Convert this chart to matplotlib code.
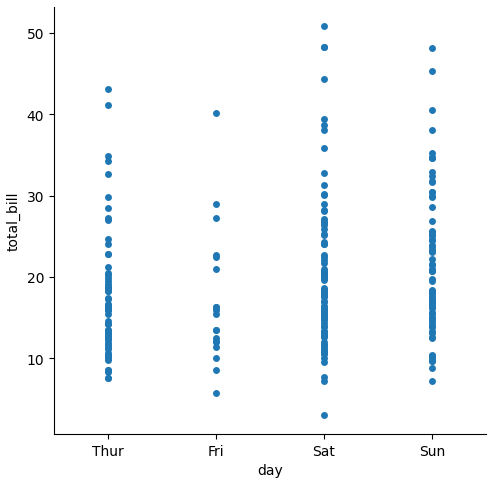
import pandas as pd
import matplotlib
matplotlib.use("Agg")
import matplotlib.pyplot as plt
import seaborn as sns

# total_bill per day
days = ["Thur", "Fri", "Sat", "Sun"]

thur_bill = [27.2, 22.76, 17.29, 19.44, 16.66, 10.07, 32.68, 15.98, 34.83, 13.03, 18.28, 24.71, 21.16,
             10.65, 12.43, 24.08, 11.69, 13.42, 14.26, 15.95, 12.48, 29.8, 8.52, 14.52, 11.38, 22.82,
             19.08, 20.27, 11.17, 12.26, 18.26, 8.51, 10.33, 14.15, 16.0, 13.16, 17.47, 34.3, 41.19,
             27.05, 16.43, 8.35, 18.64, 11.87, 9.78, 7.51, 19.81, 28.44, 15.48, 16.58, 7.56, 10.34,
             43.11, 13.0, 13.51, 18.71, 12.74, 13.0, 16.4, 20.53, 16.47, 18.78]
fri_bill = [28.97, 22.49, 5.75, 16.32, 22.75, 40.17, 27.28, 12.03, 21.01, 12.46, 11.35, 15.38,
            12.16, 13.42, 8.58, 15.98, 13.42, 16.27, 10.09]
sat_bill = [20.65, 17.92, 20.29, 15.77, 39.42, 19.82, 17.81, 13.37, 12.69, 21.7, 19.65, 9.55, 18.35,
            15.06, 20.69, 17.78, 24.06, 16.31, 16.93, 18.69, 31.27, 16.04, 38.01, 26.41, 11.24, 48.27,
            20.29, 13.81, 11.02, 18.29, 17.59, 20.08, 16.45, 3.07, 20.23, 15.01, 12.02, 17.07, 26.86,
            25.28, 14.73, 10.51, 17.92, 44.3, 22.42, 20.92, 15.36, 20.49, 25.21, 18.24, 14.31, 14.0,
            7.25, 10.59, 10.63, 50.81, 15.81, 26.59, 38.73, 24.27, 12.76, 30.06, 25.89, 48.33, 13.27,
            28.17, 12.9, 28.15, 11.59, 7.74, 30.14, 20.45, 13.28, 22.12, 24.01, 15.69, 11.61, 10.77,
            15.53, 10.07, 12.6, 32.83, 35.83, 29.03, 27.18, 22.67, 17.82]
sun_bill = [16.99, 10.34, 21.01, 23.68, 24.59, 25.29, 8.77, 26.88, 15.04, 14.78, 10.27, 35.26, 15.42,
            18.43, 14.83, 21.58, 10.33, 16.29, 16.97, 17.46, 13.94, 9.68, 30.4, 18.29, 22.23, 32.4,
            28.55, 18.04, 12.54, 10.29, 34.81, 9.94, 25.56, 19.49, 38.07, 23.95, 25.71, 17.31, 29.93,
            14.07, 13.13, 17.26, 24.55, 19.77, 29.85, 48.17, 25.0, 13.39, 16.49, 21.5, 12.66, 16.21,
            13.81, 17.51, 24.52, 20.76, 31.71, 7.25, 31.85, 16.82, 32.9, 17.89, 14.48, 9.6, 34.63,
            34.65, 23.33, 45.35, 23.17, 40.55, 20.69, 20.9, 30.46, 18.15, 23.1, 15.69]

bills = [thur_bill, fri_bill, sat_bill, sun_bill]
df = pd.DataFrame({
    "day": [d for d, b in zip(days, bills) for _ in b],
    "total_bill": [v for b in bills for v in b],
})

fig = plt.figure(figsize=(5.01, 4.85), dpi=100)
ax = fig.add_axes([54 / 501, 50 / 485, 432 / 501, 427 / 485])

sns.stripplot(data=df, x="day", y="total_bill", order=days, jitter=False, ax=ax)
sns.despine(ax=ax)

fig.savefig("out.png", dpi=100)
